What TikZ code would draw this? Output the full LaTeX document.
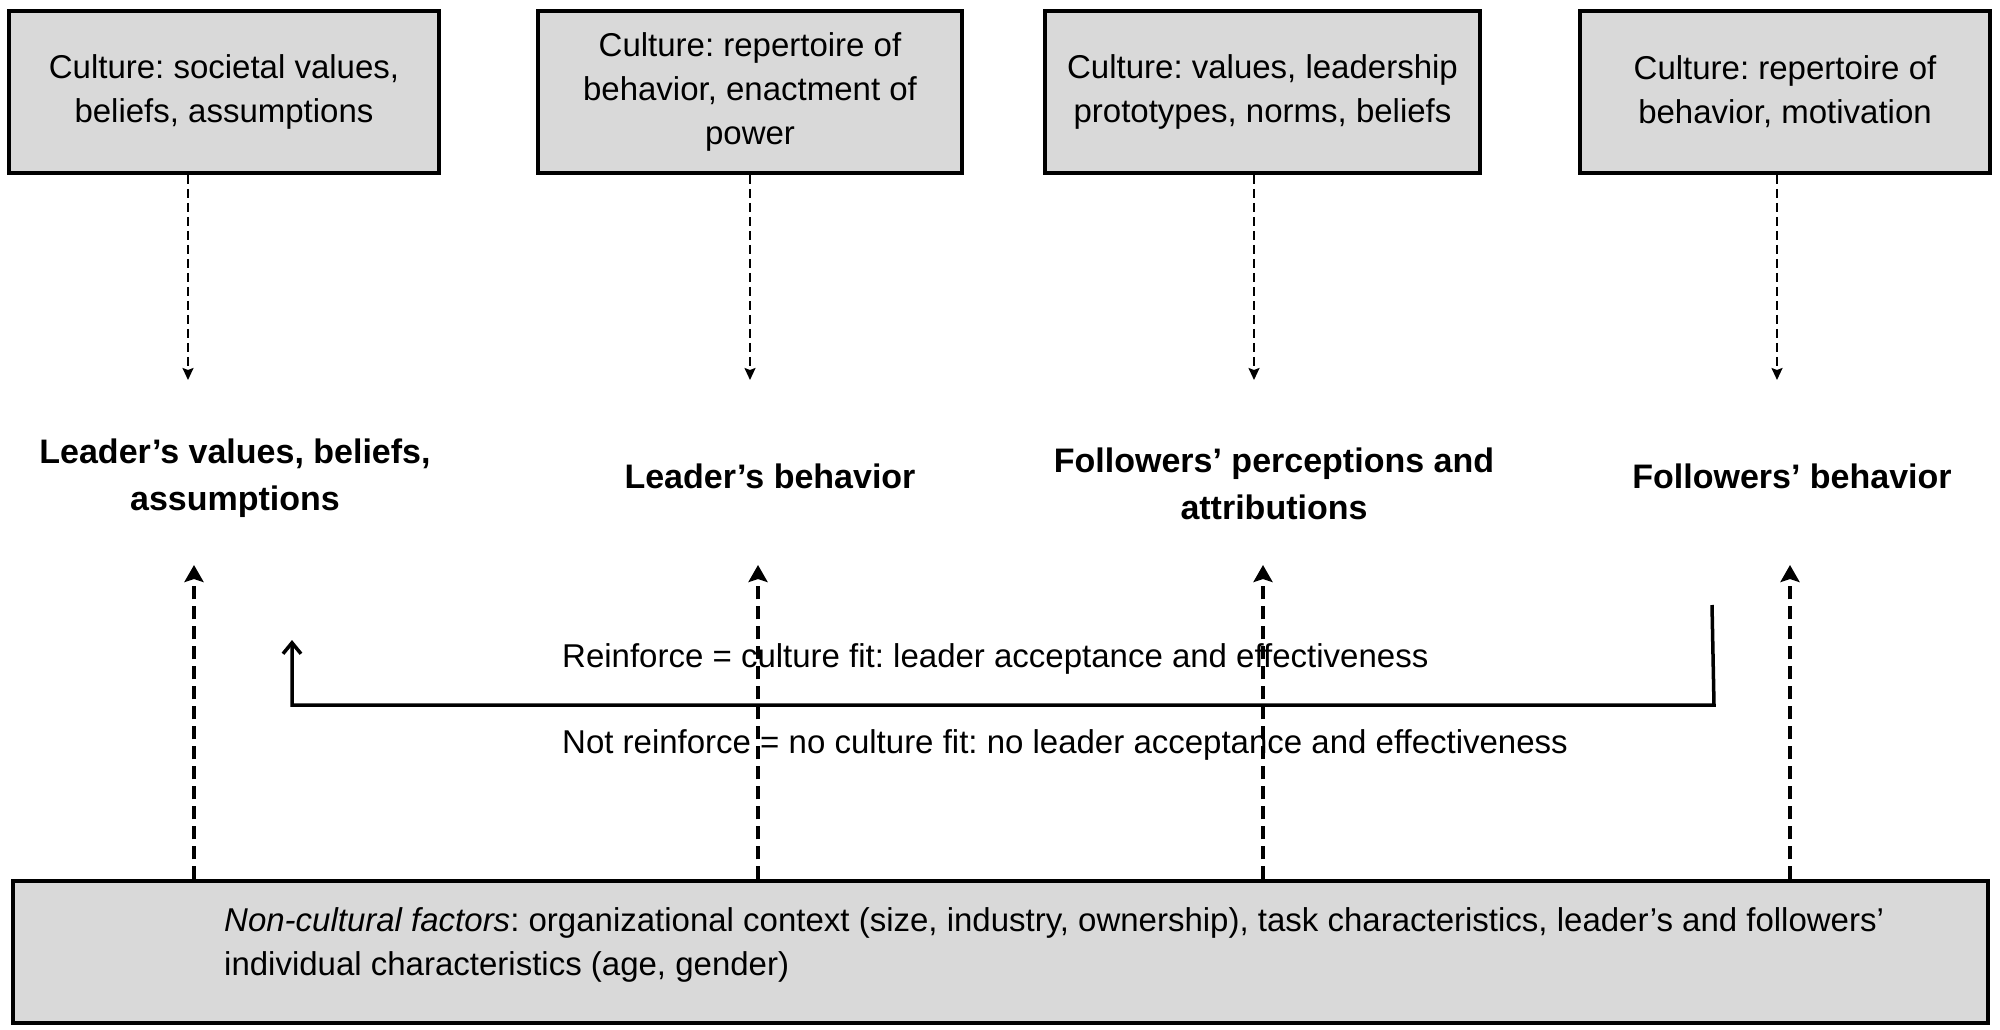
\documentclass[tikz,border=0pt]{standalone}
\usepackage{fontspec}
\setmainfont{Liberation Sans}
\usetikzlibrary{arrows.meta}
\definecolor{boxgray}{HTML}{D9D9D9}
\frenchspacing
\begin{document}
\begin{tikzpicture}[x=1pt,y=1pt,
  topbox/.style={draw=black, line width=3.5pt, fill=boxgray, minimum height=162pt,
    inner sep=0pt, align=center, font=\fontsize{33}{44}\selectfont},
  basebox/.style={draw=black, line width=3.5pt, fill=boxgray, inner sep=0pt},
  lbl/.style={inner sep=0pt, align=center, font=\fontsize{34}{47}\selectfont\bfseries},
  plain/.style={inner sep=0pt, font=\fontsize{33}{44}\selectfont},
  downarrow/.style={line width=2pt, dash pattern=on 9pt off 5pt,
    -{Stealth[length=12pt,width=11pt,inset=2pt]}},
  uparrow/.style={line width=3.5pt, dash pattern=on 13pt off 7pt,
    -{Stealth[length=17pt,width=19pt,inset=3pt]}},
  fbarrow/.style={line width=3.5pt, -{Straight Barb[length=11pt,width=18pt]}}
]
\useasboundingbox (0,0) rectangle (2000,-1030);

% top culture boxes
\node[topbox, minimum width=430pt] (c1) at (224,-92) {Culture: societal values,\\beliefs, assumptions};
\node[topbox, minimum width=424pt] (c2) at (750,-92) {Culture: repertoire of\\behavior, enactment of\\power};
\node[topbox, minimum width=435pt] (c3) at (1262.5,-92) {Culture: values, leadership\\prototypes, norms, beliefs};
\node[topbox, minimum width=410pt] (c4) at (1785,-92) {Culture: repertoire of\\behavior, motivation};

% middle labels
\node[lbl, anchor=north] (l1) at (235,-439) {Leader’s values, beliefs,\\assumptions};
\node[lbl, anchor=base] (l2) at (770,-488) {Leader’s behavior};
\node[lbl, anchor=north] (l3) at (1274,-448) {Followers’ perceptions and\\attributions};
\node[lbl, anchor=base] (l4) at (1792,-488) {Followers’ behavior};

% bottom box
\node[basebox, minimum width=1975pt, minimum height=142pt] (nc) at (1000.5,-952) {};
\node[plain, anchor=base west] (nc1) at (224,-931) {\textit{Non-cultural factors}: organizational context (size, industry, ownership), task characteristics, leader’s and followers’};
\node[plain, anchor=base west] (nc2) at (224,-975) {individual characteristics (age, gender)};

% feedback texts
\node[plain, anchor=base west] (fit) at (562,-667) {Reinforce = culture fit: leader acceptance and effectiveness};
\node[plain, anchor=base west] (nofit) at (562,-753) {Not reinforce = no culture fit: no leader acceptance and effectiveness};

% top dashed arrows
\coordinate (a1) at (188,-380);
\coordinate (a2) at (750,-380);
\coordinate (a3) at (1254,-380);
\coordinate (a4) at (1777,-380);
\draw[downarrow] (c1.south -| a1) -- (a1);
\draw[downarrow] (c2.south -| a2) -- (a2);
\draw[downarrow] (c3.south -| a3) -- (a3);
\draw[downarrow] (c4.south -| a4) -- (a4);

% bottom dashed arrows
\coordinate (b1) at (194,-565);
\coordinate (b2) at (758,-565);
\coordinate (b3) at (1263,-565);
\coordinate (b4) at (1790,-565);
\draw[uparrow] (nc.north -| b1) -- (b1);
\draw[uparrow] (nc.north -| b2) -- (b2);
\draw[uparrow] (nc.north -| b3) -- (b3);
\draw[uparrow] (nc.north -| b4) -- (b4);

% feedback loop
\coordinate (fbstart) at (1712,-605);
\coordinate (fbturnr) at (1714,-705);
\coordinate (fbturnl) at (292,-705);
\coordinate (fbend) at (292,-640);
\draw[fbarrow] (fbstart) -- (fbturnr) -- (fbturnl) -- (fbend);
\end{tikzpicture}
\end{document}
